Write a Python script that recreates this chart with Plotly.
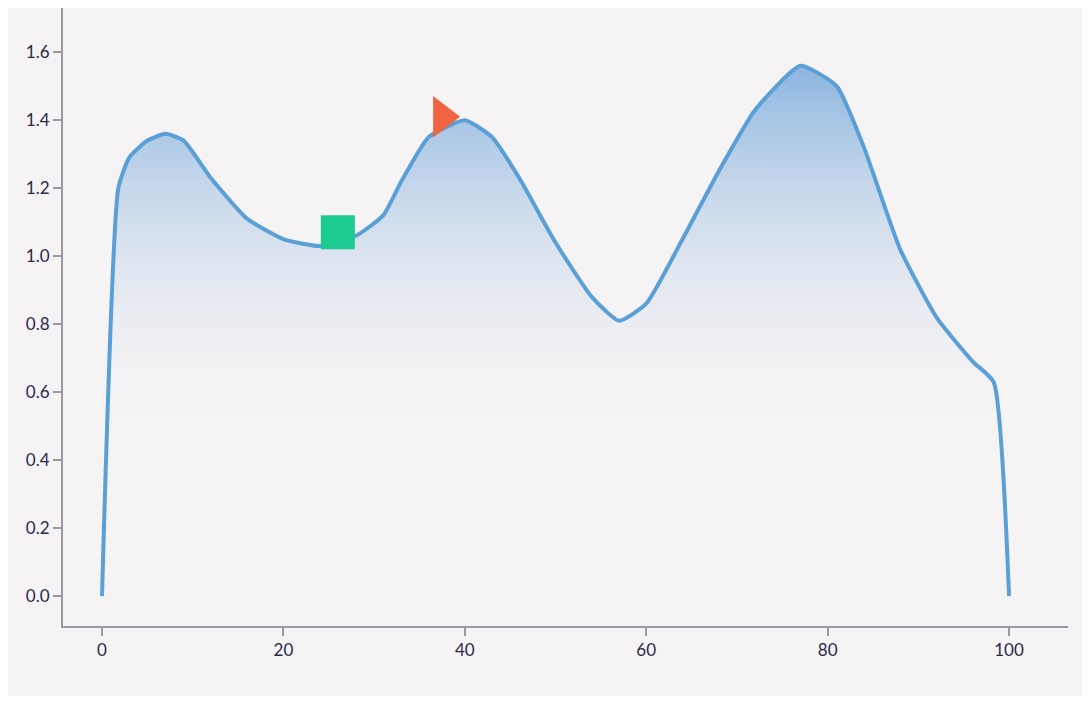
import plotly.graph_objects as go

x = [0, 1.8, 3, 5, 7, 9, 12, 16, 20, 24, 28, 31, 33, 36, 40, 43, 46, 50, 54, 57, 60, 64, 68, 72, 77, 81, 84, 88, 92, 96, 98.3, 100]
y = [0, 1.2, 1.29, 1.34, 1.36, 1.34, 1.23, 1.11, 1.05, 1.03, 1.06, 1.12, 1.22, 1.35, 1.40, 1.35, 1.23, 1.04, 0.88, 0.81, 0.86, 1.05, 1.25, 1.43, 1.56, 1.50, 1.32, 1.02, 0.82, 0.69, 0.63, 0]

square_x, square_y = [26], [1.07]
tri_x, tri_y = [37.5], [1.41]

fig = go.Figure()
fig.add_trace(go.Scatter(
    x=x, y=y, mode="lines", line=dict(color="#5a9fd6", width=4, shape="spline", smoothing=0.5),
    fill="tozeroy",
    fillgradient=dict(type="vertical", colorscale=[[0, "rgba(245,243,244,0)"], [0.3, "rgba(245,243,244,0)"], [1, "rgba(120,170,220,0.85)"]]),
))
fig.add_trace(go.Scatter(x=square_x, y=square_y, mode="markers",
                         marker=dict(symbol="square", size=34, color="#1ccb91", line=dict(width=0))))
fig.add_trace(go.Scatter(x=tri_x, y=tri_y, mode="markers",
                         marker=dict(symbol="triangle-right", size=36, color="#f06444", line=dict(width=0))))

fig.update_layout(
    width=1074, height=688, showlegend=False,
    paper_bgcolor="#f5f3f4", plot_bgcolor="#f5f3f4",
    margin=dict(l=55, r=14, t=0, b=70),
    font=dict(family="Lato", size=17, color="#2a2a4a"),
    xaxis=dict(range=[-4.3, 106.5], tickvals=[0, 20, 40, 60, 80, 100], showgrid=False, zeroline=False,
               showline=True, linecolor="#9a98a4", linewidth=2, ticks="outside", ticklen=8,
               tickcolor="#9a98a4", tickwidth=2),
    yaxis=dict(range=[-0.088, 1.73], tickvals=[0, 0.2, 0.4, 0.6, 0.8, 1.0, 1.2, 1.4, 1.6],
               tickformat=".1f", showgrid=False, zeroline=False,
               showline=True, linecolor="#9a98a4", linewidth=2, ticks="outside", ticklen=8,
               tickcolor="#9a98a4", tickwidth=2),
)
fig.write_html("out.html")
